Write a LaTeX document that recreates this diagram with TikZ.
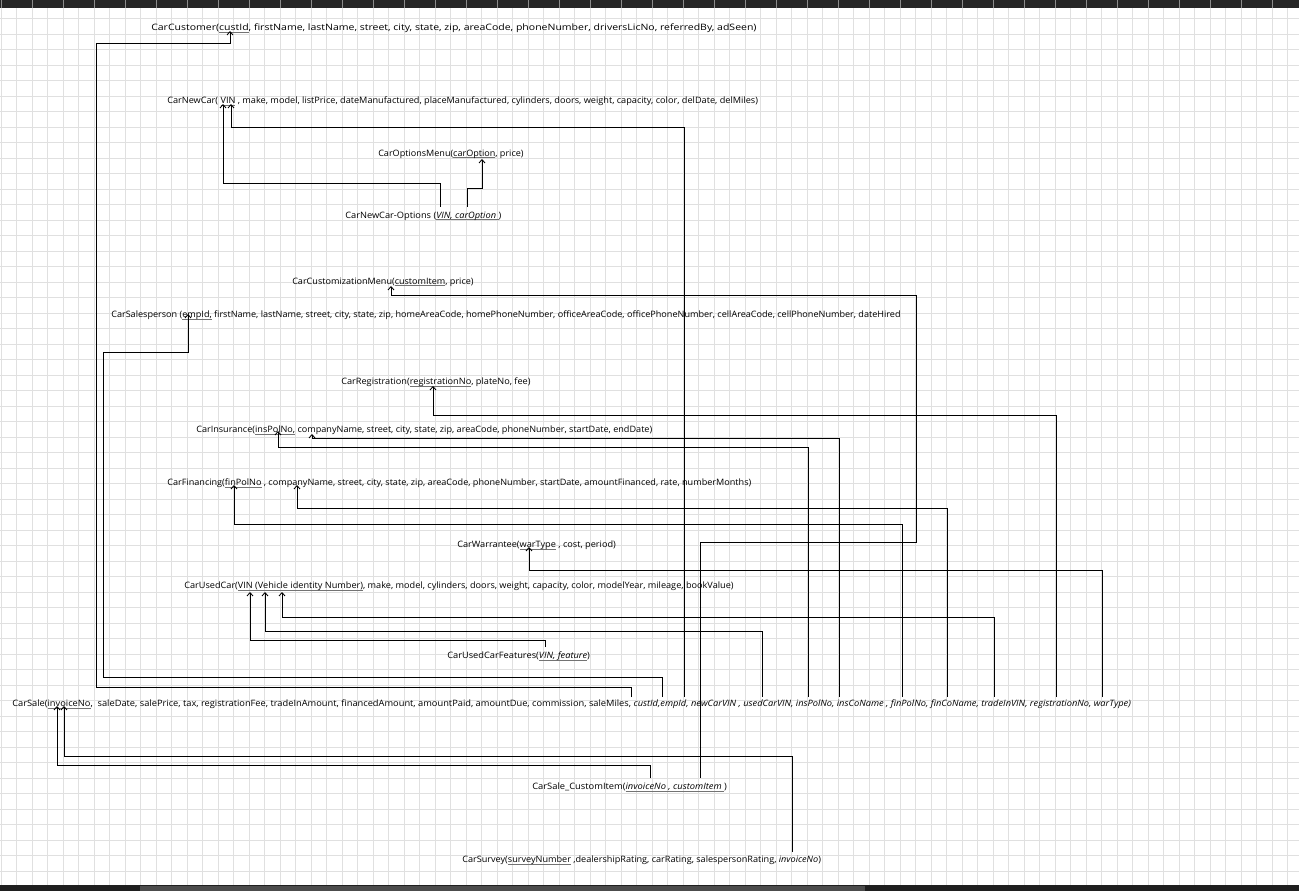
\documentclass[tikz,border=0pt]{standalone}
\usepackage{fontspec}
\setmainfont{Open Sans}
\usetikzlibrary{arrows.meta}
\newcommand{\ul}[1]{\setbox0\hbox{#1}\rlap{\color{black!55}\rule[-1.4pt]{\wd0}{0.45pt}}\box0\relax}
\newcommand{\fitw}[2]{\resizebox{#1pt}{\height}{#2}}
\begin{document}
\begin{tikzpicture}[x=0.75pt,y=-0.75pt,
  lbl/.style={anchor=west,inner sep=0pt,font=\fontsize{6.6}{7}\selectfont},
  conn/.style={line width=0.65pt,-{Straight Barb[length=2.5pt,width=4.5pt]}}]
\useasboundingbox (0,0) rectangle (1299,891);
\fill[white] (0,0) rectangle (1299,891);
% grid
\foreach \i in {0,...,84} {\draw[black!12,line width=0.6pt] (1+\i*15.5,0) -- (1+\i*15.5,891);}
\foreach \j in {0,...,57} {\draw[black!12,line width=0.6pt] (0,3+\j*15.5) -- (1299,3+\j*15.5);}
% bars
\fill[black!85] (0,0) rectangle (1299,8);
\foreach \i in {0,...,42} {\draw[black!45,line width=0.6pt] (1+\i*31,0) -- (1+\i*31,8);}
\fill[black!88] (0,885) rectangle (1299,891);
\fill[black!70] (140,886) rectangle (865,891);
% texts
\node[lbl] (cust) at (151,28) {\fitw{454}{CarCustomer(\ul{custId}, firstName, lastName, street, city, state, zip, areaCode, phoneNumber, driversLicNo, referredBy, adSeen)}};
\node[lbl] (newcar) at (167,101) {\fitw{443}{CarNewCar( \ul{VIN} , make, model, listPrice, dateManufactured, placeManufactured, cylinders, doors, weight, capacity, color, delDate, delMiles)}};
\node[lbl] (optmenu) at (378,154) {\fitw{109}{CarOptionsMenu(\ul{carOption}, price)}};
\node[lbl] (newopt) at (345,216) {\fitw{117}{CarNewCar-Options (\ul{\textit{VIN, carOption} })}};
\node[lbl] (custmenu) at (292,282) {\fitw{136}{CarCustomizationMenu(\ul{customItem}, price)}};
\node[lbl] (sales) at (111,315) {\fitw{592}{CarSalesperson (\ul{empId,} firstName, lastName, street, city, state, zip, homeAreaCode, homePhoneNumber, officeAreaCode, officePhoneNumber, cellAreaCode, cellPhoneNumber, dateHired}};
\node[lbl] (reg) at (341,382) {\fitw{142}{CarRegistration(\ul{registrationNo}, plateNo, fee)}};
\node[lbl] (ins) at (196,430) {\fitw{342}{CarInsurance(\ul{insPolNo,} companyName, street, city, state, zip, areaCode, phoneNumber, startDate, endDate)}};
\node[lbl] (fin) at (167,483) {\fitw{438}{CarFinancing(\ul{finPolNo} , companyName, street, city, state, zip, areaCode, phoneNumber, startDate, amountFinanced, rate, numberMonths)}};
\node[lbl] (war) at (457,545) {\fitw{119}{CarWarrantee(\ul{warType} , cost, period)}};
\node[lbl] (used) at (184,586) {\fitw{412}{CarUsedCar(\ul{VIN (Vehicle identity Number)}, make, model, cylinders, doors, weight, capacity, color, modelYear, mileage, bookValue)}};
\node[lbl] (feat) at (447,656) {\fitw{107}{CarUsedCarFeatures(\ul{\textit{VIN, feature}})}};
\node[lbl] (sale) at (12,704) {\fitw{839}{CarSale(\ul{invoiceNo},\ \ saleDate, salePrice, tax, registrationFee, tradeInAmount, financedAmount, amountPaid, amountDue, commission, saleMiles, \textit{custId,empId, newCarVIN , usedCarVIN, insPolNo, insCoName , finPolNo, finCoName, tradeInVIN, registrationNo, warType)}}};
\node[lbl] (sci) at (532,787) {\fitw{146}{CarSale\_CustomItem(\ul{\textit{invoiceNo , customItem} })}};
\node[lbl] (survey) at (462,860) {\fitw{269}{CarSurvey(\ul{surveyNumber} ,dealershipRating, carRating, salespersonRating, \textit{invoiceNo})}};
% connectors
\draw[conn] (631,697) -- (631,687) -- (96,687) -- (96,43) -- (230,43) -- (230,31);
\draw[conn] (440,207) -- (440,183) -- (223,183) -- (223,104);
\draw[conn] (684,697) -- (684,127) -- (231,127) -- (231,104);
\draw[conn] (467,207) -- (467,188) -- (482,188) -- (482,159);
\draw[conn] (700,778) -- (700,542) -- (916,542) -- (916,295) -- (391,295) -- (391,286);
\draw[conn] (662,697) -- (662,677) -- (103,677) -- (103,352) -- (188,352) -- (188,314);
\draw[conn] (1056,697) -- (1056,415) -- (433,415) -- (433,386);
\draw[conn] (808,697) -- (808,447) -- (278,447) -- (278,431);
\draw[conn] (839,697) -- (839,438) -- (312,438) -- (312,434);
\draw[conn] (902,697) -- (902,524) -- (234,524) -- (234,485);
\draw[conn] (947,697) -- (947,508) -- (297,508) -- (297,485);
\draw[conn] (1102,697) -- (1102,570) -- (529,570) -- (529,547);
\draw[conn] (545,647) -- (545,640) -- (250,640) -- (250,592);
\draw[conn] (762,697) -- (762,631) -- (265,631) -- (265,592);
\draw[conn] (994,697) -- (994,617) -- (282,617) -- (282,592);
\draw[conn] (650,778) -- (650,765) -- (57,765) -- (57,706);
\draw[conn] (792,852) -- (792,756) -- (64,756) -- (64,706);
\end{tikzpicture}
\end{document}
